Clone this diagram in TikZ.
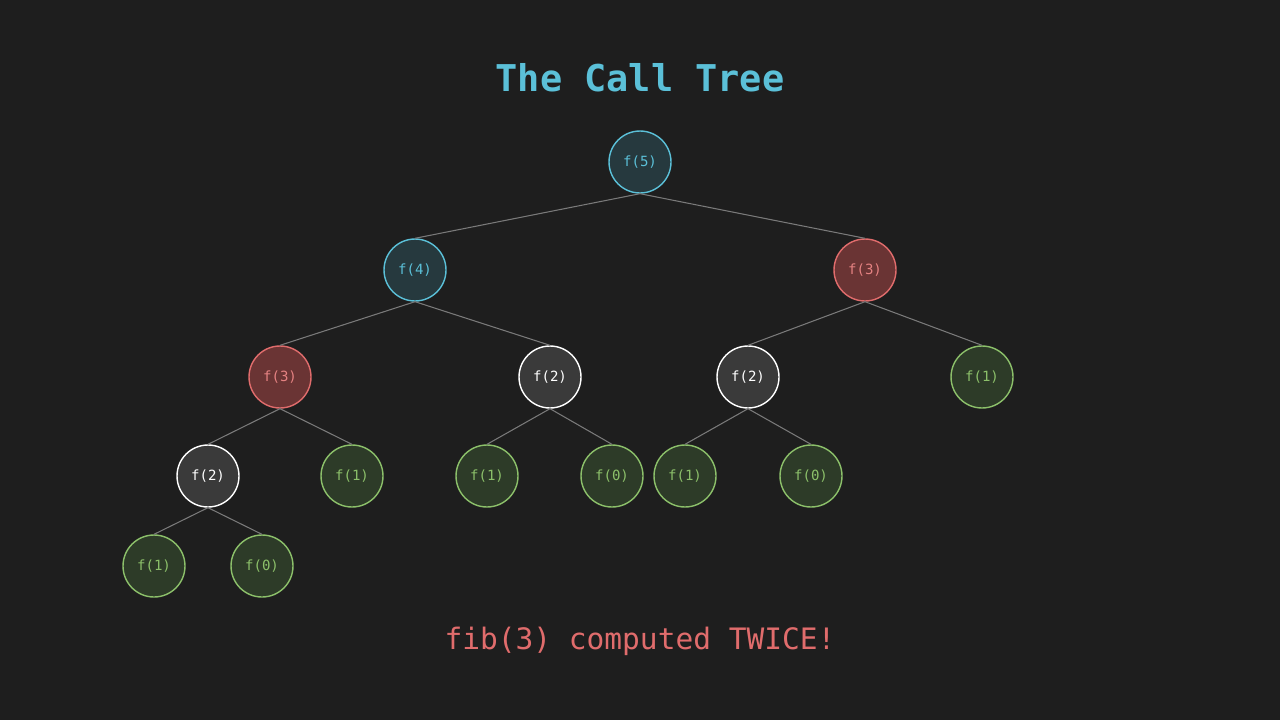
\documentclass[tikz,border=0pt]{standalone}
\usepackage{fontspec}
\setmonofont{DejaVu Sans Mono}
\usetikzlibrary{positioning}
\definecolor{bgc}{HTML}{1E1E1E}
\definecolor{cyanc}{HTML}{5BC0D8}
\definecolor{cyanf}{HTML}{26393E}
\definecolor{redc}{HTML}{E06C6C}
\definecolor{redf}{HTML}{6A3434}
\definecolor{greenc}{HTML}{8CC06A}
\definecolor{greenf}{HTML}{2D3B28}
\definecolor{grayf}{HTML}{3A3A3A}
\definecolor{edgec}{HTML}{7A7A7A}
\tikzset{
  call/.style={circle,minimum size=1.24cm,inner sep=0pt,line width=0.8pt,font=\ttfamily\fontsize{8}{10}\selectfont},
  topcall/.style={call,draw=cyanc,fill=cyanf,text=cyanc},
  dupcall/.style={call,draw=redc,fill=redf,text=redc!85!white},
  midcall/.style={call,draw=white,fill=grayf,text=white},
  leafcall/.style={call,draw=greenc,fill=greenf,text=greenc},
  branch/.style={draw=edgec,line width=0.6pt}
}
\begin{document}
\begin{tikzpicture}[x=0.02cm,y=-0.02cm]
    \fill[bgc] (0,0) rectangle (1280,720);
    \node[text=cyanc,font=\ttfamily\bfseries\fontsize{21}{25}\selectfont] (title) at (640,78) {The Call Tree};
    % level 0 and 1
    \node[topcall] (f5) at (640,162) {f(5)};
    \node[topcall] (f4) at (415,270) {f(4)};
    \node[dupcall] (f3r) at (865,270) {f(3)};
    % level 2
    \node[dupcall] (f3l) at (280,377) {f(3)};
    \node[midcall] (f2a) at (550,377) {f(2)};
    \node[midcall] (f2b) at (748,377) {f(2)};
    \node[leafcall] (f1a) at (982,377) {f(1)};
    % level 3
    \node[midcall] (f2c) at (208,476) {f(2)};
    \node[leafcall] (f1b) at (352,476) {f(1)};
    \node[leafcall] (f1c) at (487,476) {f(1)};
    \node[leafcall] (f0a) at (612,476) {f(0)};
    \node[leafcall] (f1d) at (685,476) {f(1)};
    \node[leafcall] (f0b) at (811,476) {f(0)};
    % level 4
    \node[leafcall] (f1e) at (154,566) {f(1)};
    \node[leafcall] (f0c) at (262,566) {f(0)};
    \foreach \p/\c in {f5/f4,f5/f3r,f4/f3l,f4/f2a,f3r/f2b,f3r/f1a,f3l/f2c,f3l/f1b,f2a/f1c,f2a/f0a,f2b/f1d,f2b/f0b,f2c/f1e,f2c/f0c}{
      \draw[branch] (\p.south) -- (\c.north);
    }
    \node[text=redc,font=\ttfamily\fontsize{16.8}{20}\selectfont] (note) at (640,641) {fib(3) computed TWICE!};
\end{tikzpicture}
\end{document}
